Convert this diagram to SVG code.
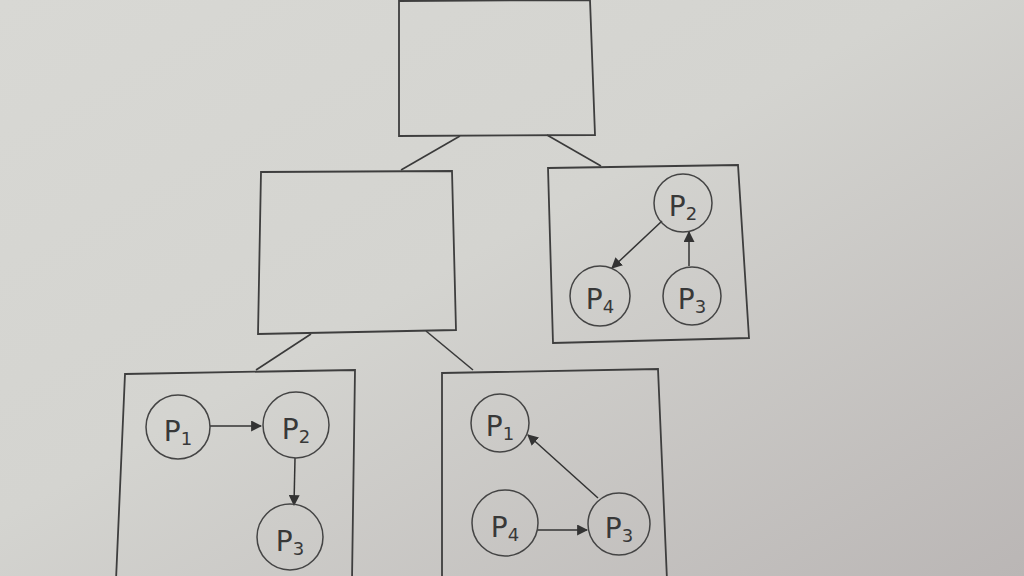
<svg xmlns="http://www.w3.org/2000/svg" width="1024" height="576" viewBox="0 0 1024 576">
<defs>
<linearGradient id="bg" x1="0" y1="0" x2="1" y2="1">
<stop offset="0" stop-color="#d8d8d4"/>
<stop offset="0.45" stop-color="#d4d4d0"/>
<stop offset="1" stop-color="#bab6b5"/>
</linearGradient>
<marker id="ah" viewBox="0 0 10 10" refX="9" refY="5" markerWidth="11" markerHeight="11" markerUnits="userSpaceOnUse" orient="auto">
<path d="M0,0 L10,5 L0,10 z" fill="#333"/>
</marker>
<style>
.box{fill:none;stroke:#3e3e3e;stroke-width:1.8}
.c{fill:none;stroke:#444;stroke-width:1.5}
.e{stroke:#3a3a3a;stroke-width:1.6;fill:none}
.a{stroke:#333;stroke-width:1.5;fill:none;marker-end:url(#ah)}
.t{font-family:"DejaVu Sans",sans-serif;font-size:28px;fill:#383838;text-anchor:middle}
.s{font-size:18px}
</style>
</defs>
<rect width="1024" height="576" fill="url(#bg)"/>
<g id="connectors">
<line class="e" x1="460" y1="136" x2="401" y2="170"/>
<line class="e" x1="547" y1="135" x2="601" y2="166"/>
<line class="e" x1="311" y1="334" x2="256" y2="370"/>
<line class="e" x1="426" y1="331" x2="473" y2="370"/>
<line class="a" x1="662" y1="221" x2="612" y2="268"/>
<line class="a" x1="689" y1="266" x2="689" y2="232"/>
<line class="a" x1="210" y1="426" x2="261" y2="426"/>
<line class="a" x1="295" y1="458" x2="294" y2="505"/>
<line class="a" x1="598" y1="498" x2="528" y2="435"/>
<line class="a" x1="538" y1="530" x2="587" y2="530"/>
</g>
<g id="root">
<polygon class="box" points="399,1 590,0 595,135 399,136"/>
</g>
<g id="mid-left">
<polygon class="box" points="261,172 452,171 456,330 258,334"/>
</g>
<g id="mid-right">
<polygon class="box" points="548,168 738,165 749,338 553,343"/>
<g id="mr-p2"><circle class="c" cx="683" cy="203" r="29"/><text class="t" x="683" y="216">P<tspan class="s" dy="4">2</tspan></text></g>
<g id="mr-p4"><circle class="c" cx="600" cy="296" r="30"/><text class="t" x="600" y="309">P<tspan class="s" dy="4">4</tspan></text></g>
<g id="mr-p3"><circle class="c" cx="692" cy="296" r="29"/><text class="t" x="692" y="309">P<tspan class="s" dy="4">3</tspan></text></g>
</g>
<g id="bottom-left">
<polygon class="box" points="125,374 355,370 352,580 116,580"/>
<g id="bl-p1"><circle class="c" cx="178" cy="427" r="32"/><text class="t" x="178" y="441">P<tspan class="s" dy="4">1</tspan></text></g>
<g id="bl-p2"><circle class="c" cx="296" cy="425" r="33"/><text class="t" x="296" y="439">P<tspan class="s" dy="4">2</tspan></text></g>
<g id="bl-p3"><circle class="c" cx="290" cy="537" r="33"/><text class="t" x="290" y="551">P<tspan class="s" dy="4">3</tspan></text></g>
</g>
<g id="bottom-right">
<polygon class="box" points="442,373 658,369 667,580 442,580"/>
<g id="br-p1"><circle class="c" cx="500" cy="423" r="29"/><text class="t" x="500" y="436">P<tspan class="s" dy="4">1</tspan></text></g>
<g id="br-p4"><circle class="c" cx="505" cy="523" r="33"/><text class="t" x="505" y="537">P<tspan class="s" dy="4">4</tspan></text></g>
<g id="br-p3"><circle class="c" cx="619" cy="524" r="31"/><text class="t" x="619" y="538">P<tspan class="s" dy="4">3</tspan></text></g>
</g>
</svg>
